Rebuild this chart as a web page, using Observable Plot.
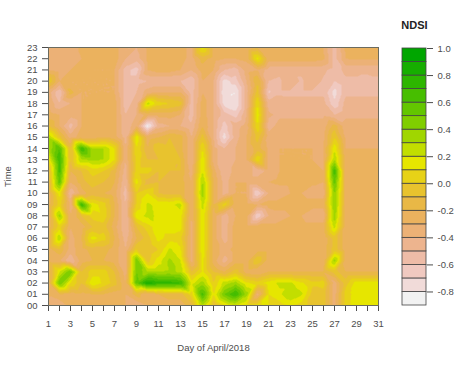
<!DOCTYPE html>
<html><head><meta charset="utf-8">
<script src="https://cdn.jsdelivr.net/npm/d3@7"></script>
<script src="https://cdn.jsdelivr.net/npm/@observablehq/plot@0.6"></script>
<style>
html,body{margin:0;padding:0;background:#fff}
#c{position:relative;width:474px;height:365px;overflow:hidden}
#c svg{position:absolute;top:0;background:transparent}
</style></head><body><div id="c"></div>
<script>
const days = d3.range(1, 32);
const hours = d3.range(0, 24);
const legendTicks = [-0.8,-0.6,-0.4,-0.2,0,0.2,0.4,0.6,0.8,1];
const levels = d3.range(-9, 11).map(d => d / 10);

const h23=[-.35,-.4,-.35,-.28,-.25,-.25,-.25,-.4,-.4,-.28,-.25,-.25,-.25,-.35,.15,-.25,-.25,-.25,-.28,-.2,-.28,-.28,-.28,-.28,-.28,-.3,-.55,-.28,-.28,-.28,-.28];
const h22=[-.35,-.4,-.35,-.3,-.25,-.25,-.25,-.4,-.45,-.28,-.25,-.25,-.25,-.35,-.15,-.25,-.3,-.3,-.28,.15,-.25,-.25,-.25,-.25,-.25,-.28,-.55,-.3,-.28,-.28,-.28];
const h21=[-.3,-.35,-.3,-.25,-.3,-.3,-.3,-.55,-.65,-.3,-.25,-.25,-.3,-.4,-.25,-.3,-.5,-.55,-.35,-.3,-.45,-.47,-.47,-.47,-.47,-.47,-.55,-.47,-.47,-.47,-.47];
const h20=[0,-.3,-.3,-.3,-.3,-.3,-.3,-.55,-.55,-.5,-.5,-.5,-.5,-.58,-.3,-.4,-.75,-.65,-.4,-.1,-.5,-.52,-.42,-.52,-.42,-.52,-.6,-.52,-.52,-.54,-.52];
const h19=[-.35,-.6,-.15,-.3,-.3,-.3,-.3,-.55,-.5,-.35,-.3,-.3,-.3,-.55,-.3,-.4,-.8,-.8,-.45,-.05,-.62,-.52,-.52,-.52,-.52,-.52,-.75,-.52,-.52,-.52,-.52];
const h18=[-.3,-.5,-.4,-.3,-.25,-.25,-.25,-.55,-.45,.25,.05,0,-.05,-.55,-.25,-.4,-.75,-.8,-.45,.1,-.45,-.45,-.46,-.46,-.46,-.46,-.68,-.46,-.46,-.46,-.46];
const h17=[-.25,-.3,-.35,-.3,-.25,-.25,-.25,-.5,-.4,-.25,-.25,-.25,-.3,-.55,-.25,-.4,-.55,-.65,-.4,.18,-.38,-.42,-.42,-.42,-.42,-.42,-.5,-.42,-.42,-.42,-.42];
const h16=[-.1,-.3,-.55,-.3,-.25,-.25,-.25,-.5,-.3,-.85,-.45,-.4,-.4,-.48,-.2,-.4,-.65,-.45,-.35,.1,-.45,-.36,-.36,-.36,-.36,-.36,-.15,-.36,-.36,-.36,-.36];
const h15=[.3,-.05,-.35,-.25,-.25,-.2,-.25,-.45,.18,-.25,-.2,-.1,-.15,-.4,-.05,-.4,-.75,-.45,-.3,-.05,-.35,-.32,-.32,-.32,-.32,-.32,0,-.32,-.32,-.32,-.32];
const h14=[.3,.6,-.1,.7,.32,.3,.1,-.4,.1,-.2,0,-.05,-.15,-.4,.1,-.35,-.5,-.4,-.3,-.15,-.32,-.3,-.3,-.3,-.3,-.3,.18,-.3,-.3,-.3,-.3];
const h13=[.1,.7,-.1,.3,.32,.3,.1,-.4,.05,-.1,-.1,-.1,-.1,-.4,.18,-.35,-.5,-.4,-.3,.1,-.35,-.3,-.3,-.3,-.3,-.32,.3,-.25,-.25,-.25,-.25];
const h12=[-.15,.65,-.2,-.1,.05,0,-.15,-.45,.05,.05,-.1,-.1,-.1,-.35,.2,-.25,-.5,-.35,-.3,-.5,-.35,-.3,-.28,-.28,-.28,-.3,.68,-.25,-.25,-.25,-.25];
const h11=[-.2,.55,-.3,-.15,-.05,-.1,-.2,-.5,.15,-.15,-.1,-.15,-.15,-.3,.32,-.2,-.45,-.3,-.3,-.3,-.3,-.28,-.28,-.28,-.28,-.3,.55,-.25,-.25,-.25,-.25];
const h10=[-.25,.15,-.5,-.25,-.15,-.2,-.25,-.55,0,.1,-.1,-.15,-.15,-.3,.36,-.2,-.45,-.3,-.3,-.7,-.4,-.35,-.3,-.3,-.35,-.35,.42,-.25,-.25,-.25,-.25];
const h09=[-.25,.05,-.35,.7,.15,.05,-.2,-.5,.02,.22,.17,.17,.24,-.3,.25,-.2,.05,-.25,-.25,-.3,-.25,-.25,-.25,-.25,-.25,-.25,.42,-.25,-.25,-.25,-.25];
const h08=[-.25,.35,-.3,-.1,.05,.08,-.2,-.5,.16,.23,.18,.18,.15,-.3,.18,-.25,-.45,-.3,-.25,-.7,-.4,-.35,-.3,-.3,-.38,-.38,.38,-.25,-.25,-.25,-.25];
const h07=[-.25,.05,-.3,-.25,-.1,-.05,-.25,-.5,-.1,.05,.17,.18,.14,-.35,.18,-.25,-.45,-.25,-.25,-.25,-.25,-.25,-.25,-.25,-.25,-.25,.25,-.25,-.25,-.25,-.25];
const h06=[-.25,.3,-.35,-.2,.15,.05,-.2,-.45,-.2,-.05,.14,.05,.03,-.35,.18,-.25,-.45,-.25,-.25,-.25,-.25,-.28,-.3,-.3,-.3,-.28,-.05,-.25,-.25,-.25,-.25];
const h05=[-.25,-.1,-.35,-.25,-.15,-.15,-.25,-.4,0,-.1,0,.22,.12,-.35,.18,-.25,-.35,-.25,-.25,-.25,-.25,-.25,-.25,-.25,-.25,-.25,-.05,-.25,-.25,-.25,-.25];
const h04=[-.25,-.3,-.5,-.25,-.2,-.2,-.25,-.4,.5,-.05,.15,.33,.2,-.35,.15,-.25,-.45,-.25,-.25,0,-.25,-.25,-.25,-.25,-.25,-.25,.35,-.25,-.25,-.25,-.25];
const h03=[-.25,.2,.5,-.1,.05,.05,-.1,-.35,.5,.3,.3,.32,.28,-.1,.12,-.1,-.2,-.05,-.25,-.3,-.2,-.2,-.2,-.2,-.2,-.2,-.05,-.2,-.2,-.2,-.2];
const h02=[-.25,.5,.1,-.1,.18,.08,-.05,-.3,.55,.85,.75,.75,.7,.15,.35,0,.25,.35,.12,.05,.15,.22,.22,.12,.02,.05,-.35,-.05,.15,.15,.15];
const h01=[-.28,-.2,-.25,-.22,-.2,-.2,-.25,-.3,-.15,-.3,-.2,-.15,-.15,.05,.65,.1,.5,.72,.35,-.35,.1,.18,.3,.22,-.05,-.05,-.35,.05,.15,.15,.15];
const h00=[-.35,-.4,-.25,-.25,-.25,-.25,-.3,-.3,-.4,-.3,-.3,-.25,-.25,-.15,.3,-.1,.1,.2,.1,.1,.1,.05,.12,.05,-.05,-.05,-.35,.05,.15,.15,.15];
const rows=[h00,h01,h02,h03,h04,h05,h06,h07,h08,h09,h10,h11,h12,h13,h14,h15,h16,h17,h18,h19,h20,h21,h22,h23];

// R terrain.colors(19), low to high after the reverse
const hsv = (h,s,v) => {
  const f = n => { const k = (n + h*6) % 6; return v - v*s*Math.max(0, Math.min(k, 4-k, 1)); };
  return d3.rgb(f(5)*255, f(3)*255, f(1)*255).formatHex();
};
const upper = d3.range(9).map(i => hsv((4/12)-(2/12)*i/8, 1, .65+.25*i/8));
const lower = d3.range(1,11).map(j => hsv((2/12)*(1-j/10), 1-j/10, .9+.05*j/10));
const palette = upper.concat(lower).reverse();

const cells = rows.flatMap((r,h) => r.map((v,i) => ({day:days[i],hour:hours[h],v})));
const font = "'Liberation Sans',Arial,sans-serif";
const ink = "#4d4d4d";
const pad = d3.format("02d");

const main = Plot.plot({
  width:474,height:365,marginLeft:48,marginRight:96,marginTop:47,marginBottom:60,
  style:{fontFamily:font,fontSize:"9.5px",color:ink},
  x:{domain:[1,31]},
  y:{domain:[0,23]},
  color:{type:"threshold",domain:levels.slice(1,-1),range:palette},
  marks:[
    Plot.contour(cells,{x:"day",y:"hour",fill:"v",thresholds:levels.slice(0,-1),interpolate:"barycentric",pixelSize:1,smooth:false,blur:0}),
    Plot.axisX({ticks:days,tickSize:6,tickPadding:9,tickFormat:d=>d%2?d:"",label:"Day of April/2018",labelAnchor:"center",labelArrow:"none",labelOffset:45,stroke:ink,fill:ink}),
    Plot.axisY({ticks:hours,tickSize:6,tickPadding:5,tickFormat:pad,label:"Time",labelAnchor:"center",labelArrow:"none",labelOffset:44,stroke:ink,fill:ink}),
    Plot.frame({stroke:"#6b6b5f"})
  ]
});
main.style.left="0px";
document.getElementById("c").append(main);

const bands = d3.pairs(levels).map(([a,b],i)=>({a,b,c:palette[i]}));
const legend = Plot.plot({
  width:89,height:365,marginLeft:17,marginRight:48,marginTop:48,marginBottom:60,
  style:{fontFamily:font,fontSize:"9.5px",color:ink},
  x:{domain:[0,1],axis:null},
  y:{domain:[-0.9,1]},
  marks:[
    Plot.rect(bands,{x1:0,x2:1,y1:"a",y2:"b",fill:"c",stroke:"#444",strokeWidth:.8}),
    Plot.axisY({anchor:"right",ticks:legendTicks,tickSize:6,tickPadding:5,tickFormat:d=>d.toFixed(1),label:null,stroke:ink,fill:ink}),
    Plot.text(["NDSI"],{frameAnchor:"top",dy:-27,fontWeight:"bold",fontSize:11,fill:"#222"})
  ]
});
legend.style.left="385px";
document.getElementById("c").append(legend);
</script></body></html>
